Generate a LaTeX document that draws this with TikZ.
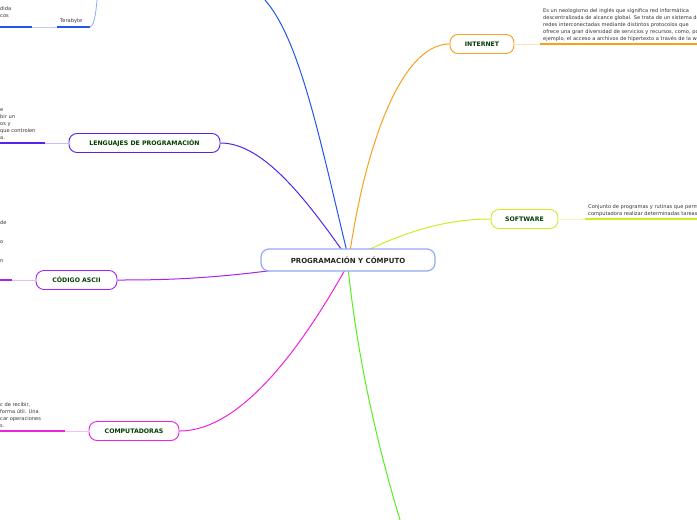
\documentclass[tikz,border=0pt]{standalone}
\usepackage{fontspec}
\setmainfont{DejaVu Sans}
\begin{document}
\begin{tikzpicture}[x=1pt,y=-1pt,
 topic/.style={draw=#1,line width=0.9pt,rounded corners=8pt,fill=white,font=\bfseries\fontsize{6.2}{7}\selectfont,text=green!25!black,inner sep=0pt,minimum height=19pt},
 small/.style={font=\fontsize{5.1}{7}\selectfont,text=black!80,align=left,inner sep=0pt},
 br/.style={line width=1pt}]
\useasboundingbox (0,0) rectangle (697,520);
\clip (0,0) rectangle (697,520);
\definecolor{cblue}{HTML}{2255EE}
\definecolor{corange}{HTML}{F8A020}
\definecolor{cyel}{HTML}{CCEE22}
\definecolor{cpur}{HTML}{5522EE}
\definecolor{cvio}{HTML}{AA22EE}
\definecolor{cmag}{HTML}{EE22DD}
\definecolor{cgreen}{HTML}{55EE22}
\coordinate (c) at (347,252);
\coordinate (topb) at (265,0);
\coordinate (botg) at (400,520);
\draw[br,cblue] (c) .. controls (320,140) and (300,40) .. (topb);
\draw[br,cgreen] (348,268) .. controls (360,380) and (385,470) .. (botg);
\node[topic=corange,minimum width=64pt] (inet) at (482,44) {INTERNET};
\node[topic=cyel,minimum width=67pt] (soft) at (524.5,219) {SOFTWARE};
\node[topic=cpur,minimum width=151pt] (leng) at (144.5,143) {LENGUAJES DE PROGRAMACIÓN};
\node[topic=cvio,minimum width=81pt] (ascii) at (76.5,280) {CÓDIGO ASCII};
\node[topic=cmag,minimum width=90pt] (comp) at (134,431) {COMPUTADORAS};
\draw[br,corange] (350,252) .. controls (365,150) and (400,44) .. (inet.west);
\draw[br,cyel] (368,250) .. controls (420,225) and (460,219) .. (soft.west);
\draw[br,cpur] (346,256) .. controls (300,190) and (260,143) .. (leng.east);
\draw[br,cvio] (275,270) .. controls (200,280) and (150,280) .. (ascii.east);
\draw[br,cmag] (346,268) .. controls (300,350) and (240,431) .. (comp.east);
\node[draw=cblue!50!white,line width=1.2pt,rounded corners=8pt,fill=white,font=\bfseries\fontsize{7}{8}\selectfont,text=black!85,minimum width=174pt,minimum height=22pt,inner sep=0pt] (main) at (348,260) {PROGRAMACIÓN Y CÓMPUTO};
\coordinate (i1) at (540,44); \coordinate (i2) at (697,44);
\draw[line width=0.8pt,corange!30] (inet.east) -- (i1);
\draw[line width=1.4pt,corange] (i1) -- (i2);
\node[small,anchor=south west] (itext) at (543,42) {Es un neologismo del inglés que significa red informática\\descentralizada de alcance global. Se trata de un sistema de\\redes interconectadas mediante distintos protocolos que\\ofrece una gran diversidad de servicios y recursos, como, por\\ejemplo, el acceso a archivos de hipertexto a través de la web.};
\coordinate (s1) at (585,219); \coordinate (s2) at (697,219);
\draw[line width=0.8pt,cyel!30] (soft.east) -- (s1);
\draw[line width=1.4pt,cyel] (s1) -- (s2);
\node[small,anchor=south west] (stext) at (588,217) {Conjunto de programas y rutinas que permiten a la\\computadora realizar determinadas tareas.};
\coordinate (l1) at (45,143); \coordinate (l0) at (0,143);
\draw[line width=0.8pt,cpur!30] (leng.west) -- (l1);
\draw[line width=1.4pt,cpur] (l1) -- (l0);
\node[small,anchor=south west] (ltext) at (0,140) {e\\bir un\\os y\\que controlen\\a.};
\coordinate (a1) at (12,280); \coordinate (a0) at (0,280);
\draw[line width=0.8pt,cvio!30] (ascii.west) -- (a1);
\draw[line width=1.4pt,cvio] (a1) -- (a0);
\node[small,anchor=west] (at1) at (0,223) {de};
\node[small,anchor=west] (at2) at (0,242) {o};
\node[small,anchor=west] (at3) at (0,261) {n};
\coordinate (m1) at (65,431); \coordinate (m0) at (0,431);
\draw[line width=0.8pt,cmag!30] (comp.west) -- (m1);
\draw[line width=1.4pt,cmag] (m1) -- (m0);
\node[small,anchor=south west] (mtext) at (0,428) {c de recibir,\\forma útil. Una\\car operaciones\\s.};
\coordinate (t0) at (0,27); \coordinate (t1) at (32,27); \coordinate (t2) at (57,27); \coordinate (t3) at (90,27); \coordinate (t4) at (97,0);
\draw[line width=1.4pt,cblue] (t0) -- (t1);
\draw[line width=0.8pt,cblue!30] (t1) -- (t2);
\draw[line width=1.4pt,cblue] (t2) -- (t3);
\draw[line width=0.8pt,cblue!50] (t3) .. controls (95,25) and (96,10) .. (t4);
\node[small,anchor=south west] (tera) at (60,24) {Terabyte};
\node[small,anchor=south west] (ttext) at (0,18) {dida\\cos};
\end{tikzpicture}
\end{document}
